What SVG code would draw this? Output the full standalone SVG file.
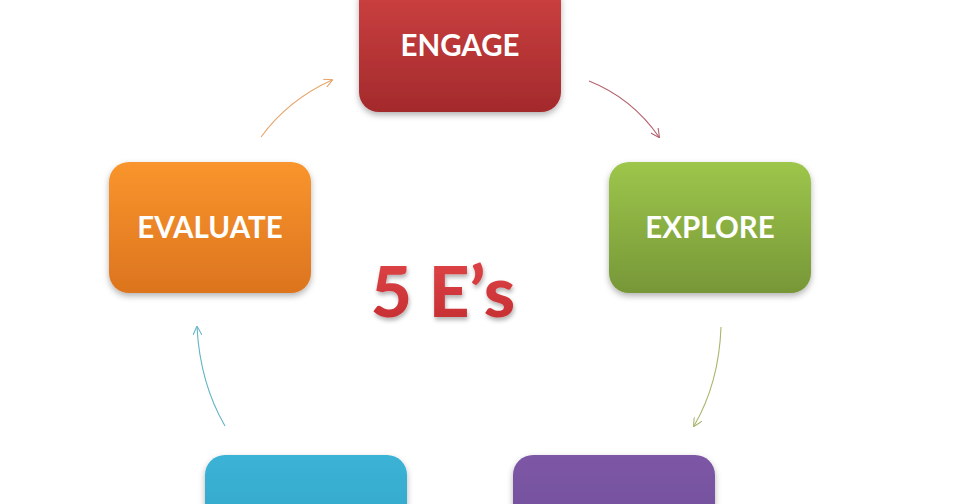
<svg xmlns="http://www.w3.org/2000/svg" width="960" height="504" viewBox="0 0 960 504">
<defs>
<linearGradient id="gRed" x1="0" y1="0" x2="0" y2="1"><stop offset="0" stop-color="#cf4242"/><stop offset="1" stop-color="#a32a2c"/></linearGradient>
<linearGradient id="gOrange" x1="0" y1="0" x2="0" y2="1"><stop offset="0" stop-color="#f9952d"/><stop offset="1" stop-color="#dc741e"/></linearGradient>
<linearGradient id="gGreen" x1="0" y1="0" x2="0" y2="1"><stop offset="0" stop-color="#9dc64b"/><stop offset="1" stop-color="#779738"/></linearGradient>
<linearGradient id="gCyan" x1="0" y1="0" x2="0" y2="1"><stop offset="0" stop-color="#3bb3d6"/><stop offset="1" stop-color="#2e9fc0"/></linearGradient>
<linearGradient id="gPurple" x1="0" y1="0" x2="0" y2="1"><stop offset="0" stop-color="#7d58a6"/><stop offset="1" stop-color="#6a4794"/></linearGradient>
<linearGradient id="gTitle" x1="0" y1="0" x2="0" y2="1"><stop offset="0" stop-color="#e2474a"/><stop offset="1" stop-color="#c22c30"/></linearGradient>
<filter id="shadow" x="-10%" y="-10%" width="120%" height="130%"><feDropShadow dx="0" dy="3" stdDeviation="3" flood-color="#000" flood-opacity="0.3"/></filter>
<filter id="tshadow" x="-10%" y="-10%" width="120%" height="130%"><feDropShadow dx="1" dy="3" stdDeviation="2" flood-color="#000" flood-opacity="0.3"/></filter>
<marker id="mRed" viewBox="0 0 10 10" refX="9" refY="5" markerWidth="9" markerHeight="9" markerUnits="userSpaceOnUse" orient="auto"><path d="M0,0 L10,5 L0,10" fill="none" stroke="#b5606e" stroke-width="1.2"/></marker>
<marker id="mOrange" viewBox="0 0 10 10" refX="9" refY="5" markerWidth="9" markerHeight="9" markerUnits="userSpaceOnUse" orient="auto"><path d="M0,0 L10,5 L0,10" fill="none" stroke="#e6a46c" stroke-width="1.2"/></marker>
<marker id="mGreen" viewBox="0 0 10 10" refX="9" refY="5" markerWidth="9" markerHeight="9" markerUnits="userSpaceOnUse" orient="auto"><path d="M0,0 L10,5 L0,10" fill="none" stroke="#a7b76c" stroke-width="1.2"/></marker>
<marker id="mCyan" viewBox="0 0 10 10" refX="9" refY="5" markerWidth="9" markerHeight="9" markerUnits="userSpaceOnUse" orient="auto"><path d="M0,0 L10,5 L0,10" fill="none" stroke="#5fb4c6" stroke-width="1.2"/></marker>
</defs>
<style>
.box{filter:url(#shadow);}
.lbl{font-family:"Lato","Open Sans","Liberation Sans",sans-serif;font-weight:bold;font-size:29.5px;fill:#ffffff;text-anchor:middle;}
.conn{fill:none;stroke-width:1.1;}
</style>
<rect width="960" height="504" fill="#ffffff"/>
<g id="connectors">
<path class="conn" d="M589,81 Q632,98 659,137" stroke="#b5606e" marker-end="url(#mRed)"/>
<path class="conn" d="M721,327 Q719,383 694,426" stroke="#a7b76c" marker-end="url(#mGreen)"/>
<path class="conn" d="M225,426 Q200,383 197,327" stroke="#5fb4c6" marker-end="url(#mCyan)"/>
<path class="conn" d="M261,137 Q288,100 332,80" stroke="#e6a46c" marker-end="url(#mOrange)"/>
</g>
<g id="engage"><rect class="box" x="359" y="-19" width="202" height="131" rx="20" fill="url(#gRed)"/><text class="lbl" x="460" y="56">ENGAGE</text></g>
<g id="explore"><rect class="box" x="609" y="162" width="202" height="131" rx="20" fill="url(#gGreen)"/><text class="lbl" x="710" y="238">EXPLORE</text></g>
<g id="evaluate"><rect class="box" x="109" y="162" width="202" height="131" rx="20" fill="url(#gOrange)"/><text class="lbl" x="210" y="238">EVALUATE</text></g>
<g id="explain"><rect class="box" x="205" y="455" width="202" height="131" rx="20" fill="url(#gCyan)"/></g>
<g id="elaborate"><rect class="box" x="513" y="455" width="202" height="131" rx="20" fill="url(#gPurple)"/></g>
<g id="title"><text x="443" y="317" font-family="Lato,'Open Sans','Liberation Sans',sans-serif" font-weight="900" font-size="71" fill="url(#gTitle)" text-anchor="middle" filter="url(#tshadow)">5 E’s</text></g>
</svg>
